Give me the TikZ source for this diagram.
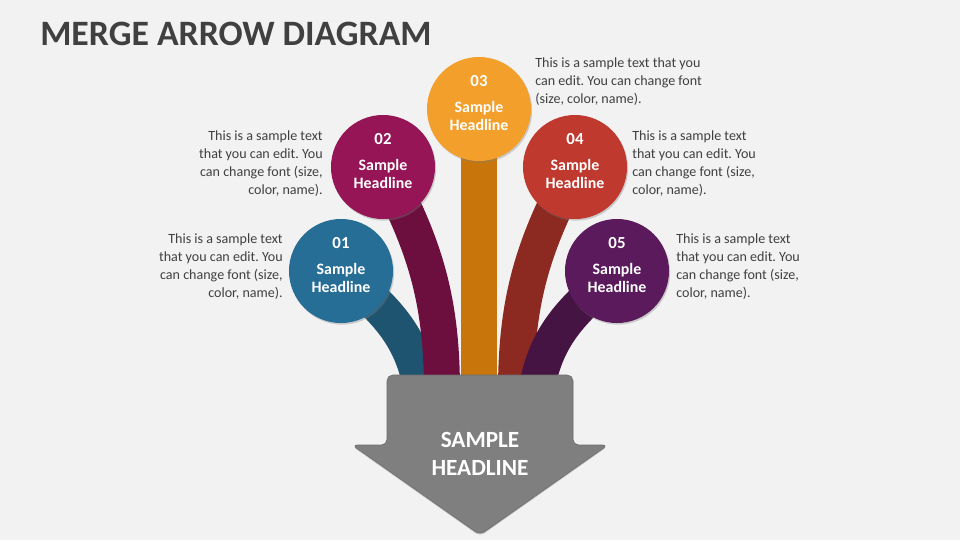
\documentclass[tikz,border=0pt]{standalone}
\usepackage{fontspec}
\setmainfont{Carlito}
\usepackage{xcolor}
\usetikzlibrary{shadows}
\frenchspacing

\definecolor{bgGray}{HTML}{F2F2F2}
\definecolor{txtGray}{HTML}{404040}
\definecolor{fill1}{HTML}{266E96}
\definecolor{band1}{HTML}{1E5470}
\definecolor{fill2}{HTML}{951556}
\definecolor{band2}{HTML}{6D0F3E}
\definecolor{fill3}{HTML}{F39F2C}
\definecolor{band3}{HTML}{C8760C}
\definecolor{fill4}{HTML}{C0392F}
\definecolor{band4}{HTML}{8C2A22}
\definecolor{fill5}{HTML}{5A1A5C}
\definecolor{band5}{HTML}{451443}
\definecolor{arrowGray}{HTML}{7F7F7F}

\pgfdeclarelayer{bg}
\pgfdeclarelayer{bands}
\pgfsetlayers{bg,bands,main}

\begin{document}
\begin{tikzpicture}[x=0.025cm, y=-0.025cm]

    % Style for nodes
    \tikzset{
        bubble/.style={circle, minimum size=2.6cm, inner sep=0pt, drop shadow={opacity=0.35, shadow xshift=0.8pt, shadow yshift=-1.2pt}},
        bubbletext/.style={text=white, align=center, inner sep=0pt, font=\bfseries\fontsize{11.3}{12.8}\selectfont},
        band/.style={line width=0.9cm},
        note/.style={text=txtGray, inner sep=0pt, font=\fontsize{10}{12.8}\selectfont}
    }

    % --- BACKGROUND AND TITLE ---
    \begin{pgfonlayer}{bg}
        \fill[bgGray] (0,0) rectangle (960,540);
    \end{pgfonlayer}
    \useasboundingbox (0,0) rectangle (960,540);
    \node[anchor=west, inner sep=0pt, text=txtGray, font=\bfseries\fontsize{25.4}{30}\selectfont] (title) at (40,34) {MERGE ARROW DIAGRAM};

    % --- DRAW CIRCLES ---
    \foreach \i/\x/\y in {1/341/271, 2/383/167, 3/479/109, 4/575/167, 5/617/271} {
        \node[bubble, fill=fill\i] (c\i) at (\x,\y) {};
        \node[bubbletext] (l\i) at ([yshift=0.15cm]c\i.center) {{\fontsize{12}{14}\selectfont 0\i}\\[6pt]Sample\\Headline};
    }

    % --- BAND END POINTS (hidden under the arrow) ---
    \coordinate (b1) at (422,392);
    \coordinate (b2) at (442,392);
    \coordinate (b3) at (479,392);
    \coordinate (b4) at (516,392);
    \coordinate (b5) at (536,392);

    % --- BANDS ---
    \begin{pgfonlayer}{bands}
        \draw[band, band1] (c1.center) .. controls +(42,38) and +(-10,-60) .. (b1);
        \draw[band, band2] (c2.center) .. controls (425,245) and (442,300) .. (b2);
        \draw[band, band4] (c4.center) .. controls (533,245) and (516,300) .. (b4);
        \draw[band, band5] (c5.center) .. controls +(-42,38) and +(10,-60) .. (b5);
        \draw[band, band3] (c3.center) -- (b3);
    \end{pgfonlayer}

    % --- MERGE ARROW ---
    \draw[arrowGray!85!black, line width=0.4pt, fill=arrowGray, rounded corners=4pt,
          drop shadow={opacity=0.35, shadow xshift=0pt, shadow yshift=-1pt}]
        (480,375) -- (573,375) -- (573,445) -- (608,445) -- (480,535)
        -- (352,445) -- (387,445) -- (387,375) -- cycle;
    \node[text=white, align=center, inner sep=0pt, font=\bfseries\fontsize{16.5}{20}\selectfont] (merge) at (480,454) {SAMPLE\\HEADLINE};

    % --- DESCRIPTIONS ---
    \node[note, anchor=east, align=right] (t1) at (283,267) {This is a sample text\\that you can edit. You\\can change font (size,\\color, name).};
    \node[note, anchor=east, align=right] (t2) at (323,164) {This is a sample text\\that you can edit. You\\can change font (size,\\color, name).};
    \node[note, anchor=west, align=left] (t3) at (535,82) {This is a sample text that you\\can edit. You can change font\\(size, color, name).};
    \node[note, anchor=west, align=left] (t4) at (632,164) {This is a sample text\\that you can edit. You\\can change font (size,\\color, name).};
    \node[note, anchor=west, align=left] (t5) at (676,267) {This is a sample text\\that you can edit. You\\can change font (size,\\color, name).};

\end{tikzpicture}
\end{document}
